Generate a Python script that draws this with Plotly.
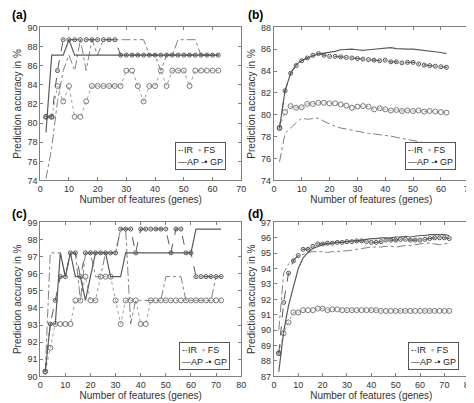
import plotly.graph_objects as go
from plotly.subplots import make_subplots

# Число признаков (генов)
x_ab = [2, 4, 6, 8, 10, 12, 14, 16, 18, 20, 22, 24, 26, 28, 30, 32, 34, 36, 38, 40,
        42, 44, 46, 48, 50, 52, 54, 56, 58, 60, 62]
x_cd = [2, 4, 6, 8, 10, 12, 14, 16, 18, 20, 22, 24, 26, 28, 30, 32, 34, 36, 38, 40,
        42, 44, 46, 48, 50, 52, 54, 56, 58, 60, 62, 64, 66, 68, 70, 72]

# (a)
ir_a = [74.19, 77.42, 82.26, 85.48, 87.10, 85.48, 88.71, 85.48, 88.71, 87.10, 88.71, 88.71, 88.71,
        88.71, 88.71, 88.71, 88.71, 88.71, 87.10, 87.10, 85.48, 87.10, 87.10, 88.71, 88.71, 88.71,
        88.71, 87.10, 87.10, 87.10, 87.10]
fs_a = [80.65, 80.65, 83.87, 82.26, 83.87, 80.65, 80.65, 82.26, 83.87, 83.87, 83.87, 83.87, 83.87,
        83.87, 85.48, 85.48, 83.87, 82.26, 83.87, 83.87, 85.48, 83.87, 85.48, 85.48, 85.48, 83.87,
        85.48, 85.48, 85.48, 85.48, 85.48]
ap_a = [79.03, 87.10, 87.10, 87.10, 88.71, 87.10, 87.10, 87.10, 87.10, 87.10, 87.10, 87.10, 87.10,
        87.10, 87.10, 87.10, 87.10, 87.10, 87.10, 87.10, 87.10, 87.10, 87.10, 87.10, 87.10, 87.10,
        87.10, 87.10, 87.10, 87.10, 87.10]
gp_a = [80.65, 80.65, 85.48, 88.71, 88.71, 88.71, 88.71, 88.71, 88.71, 88.71, 88.71, 88.71, 88.71,
        87.10, 87.10, 87.10, 87.10, 87.10, 87.10, 87.10, 87.10, 87.10, 87.10, 87.10, 87.10, 87.10,
        87.10, 87.10, 87.10, 87.10, 87.10]

# (b)
ir_b = [75.7, 78.3, 78.8, 79.3, 79.7, 79.6, 79.65, 79.7, 79.4, 79.15, 78.95, 78.8, 78.7, 78.55,
        78.45, 78.35, 78.3, 78.25, 78.2, 78.1, 78.05, 77.95, 77.85, 77.75, 77.65, 77.55, 77.5,
        77.4, 77.25, 77.1, 77.0]
fs_b = [78.8, 80.25, 80.8, 80.65, 80.7, 81.0, 81.0, 81.1, 81.1, 81.05, 81.05, 80.95, 80.85, 80.65,
        80.75, 80.8, 80.75, 80.5, 80.6, 80.5, 80.4, 80.45, 80.35, 80.4, 80.35, 80.4, 80.3, 80.35,
        80.3, 80.25, 80.2]
ap_b = [78.8, 82.2, 83.8, 84.6, 85.0, 85.2, 85.45, 85.6, 85.65, 85.7, 85.8, 85.95, 86.0, 86.0,
        85.95, 85.9, 85.95, 86.0, 86.0, 86.05, 86.15, 86.05, 86.0, 86.0, 86.0, 85.95, 85.9, 85.85,
        85.8, 85.7, 85.6]
gp_b = [78.8, 82.2, 83.8, 84.5, 84.95, 85.2, 85.45, 85.6, 85.45, 85.35, 85.35, 85.3, 85.25, 85.2,
        85.15, 85.1, 85.05, 85.0, 84.95, 85.0, 84.85, 84.85, 84.75, 84.8, 84.8, 84.65, 84.55, 84.5,
        84.45, 84.4, 84.35]

# (c)
ir_c = [90.28, 97.22, 97.22, 97.22, 95.83, 97.22, 97.22, 94.44, 97.22, 97.22, 95.83, 95.83, 97.22,
        97.22, 97.22, 98.61, 98.61, 93.06, 94.44, 94.44, 94.44, 94.44, 94.44, 94.44, 95.83, 95.83,
        95.83, 95.83, 94.44, 94.44, 94.44, 94.44, 94.44, 94.44, 95.83, 95.83]
fs_c = [90.28, 91.67, 93.06, 93.06, 93.06, 93.06, 94.44, 94.44, 95.83, 94.44, 94.44, 95.83, 95.83,
        95.83, 94.44, 93.06, 94.44, 94.44, 94.44, 93.06, 93.06, 94.44, 94.44, 94.44, 94.44, 94.44,
        94.44, 94.44, 94.44, 94.44, 94.44, 94.44, 94.44, 94.44, 94.44, 94.44]
ap_c = [90.28, 93.06, 93.06, 97.22, 95.83, 97.22, 95.83, 95.83, 94.44, 95.83, 97.22, 97.22, 97.22,
        95.83, 95.83, 95.83, 97.22, 97.22, 97.22, 97.22, 97.22, 97.22, 97.22, 97.22, 97.22, 97.22,
        97.22, 97.22, 97.22, 97.22, 98.61, 98.61, 98.61, 98.61, 98.61, 98.61]
gp_c = [90.28, 93.06, 94.44, 95.83, 95.83, 97.22, 97.22, 95.83, 97.22, 97.22, 97.22, 97.22, 97.22,
        97.22, 97.22, 98.61, 98.61, 98.61, 97.22, 98.61, 98.61, 98.61, 98.61, 98.61, 98.61, 97.22,
        98.61, 98.61, 97.22, 97.22, 95.83, 95.83, 95.83, 95.83, 95.83, 95.83]

# (d)
ir_d = [90.0, 93.7, 94.3, 94.6, 94.8, 94.95, 95.05, 95.1, 95.1, 95.1, 95.05, 95.1, 95.1, 95.15,
        95.15, 95.2, 95.25, 95.3, 95.35, 95.4, 95.4, 95.4, 95.45, 95.45, 95.4, 95.45, 95.5, 95.5,
        95.55, 95.6, 95.65, 95.65, 95.6, 95.55, 95.6, 95.65]
fs_d = [88.5, 89.8, 90.5, 91.15, 91.15, 91.3, 91.3, 91.3, 91.4, 91.4, 91.3, 91.35, 91.35, 91.3,
        91.3, 91.3, 91.3, 91.3, 91.3, 91.3, 91.3, 91.25, 91.25, 91.25, 91.25, 91.25, 91.25, 91.25,
        91.25, 91.25, 91.25, 91.25, 91.25, 91.25, 91.25, 91.25]
ap_d = [87.3, 89.9, 91.6, 92.9, 94.0, 94.7, 95.05, 95.3, 95.45, 95.55, 95.6, 95.65, 95.7, 95.7,
        95.75, 95.8, 95.8, 95.85, 95.9, 95.95, 95.95, 96.0, 96.0, 96.0, 96.05, 96.05, 96.1, 96.05,
        96.1, 96.15, 96.15, 96.2, 96.2, 96.2, 96.2, 96.15]
gp_d = [88.5, 91.8, 93.7, 94.5, 94.85, 95.25, 95.25, 95.45, 95.6, 95.6, 95.65, 95.65, 95.7, 95.7,
        95.75, 95.75, 95.8, 95.8, 95.75, 95.7, 95.7, 95.75, 95.85, 95.85, 95.85, 95.9, 95.9, 95.85,
        95.85, 95.85, 95.9, 95.95, 96.0, 96.0, 96.0, 95.95]

FONT = "Liberation Sans"

fig = make_subplots(rows=2, cols=2)


def add_panel(row, col, x, ir, fs, ap, gp):
    fig.add_trace(go.Scatter(x=x, y=ir, name="IR", mode="lines",
                             line=dict(color="#808080", width=1, dash="dashdot")),
                  row=row, col=col)
    fig.add_trace(go.Scatter(x=x, y=fs, name="FS", mode="lines+markers",
                             line=dict(color="#a0a0a0", width=1, dash="dot"),
                             marker=dict(symbol="circle-open", size=5, color="#7a7a7a",
                                         line=dict(width=1))),
                  row=row, col=col)
    fig.add_trace(go.Scatter(x=x, y=ap, name="AP", mode="lines",
                             line=dict(color="#5a5a5a", width=1.2)),
                  row=row, col=col)
    fig.add_trace(go.Scatter(x=x, y=gp, name="GP", mode="lines+markers",
                             line=dict(color="#5a5a5a", width=1, dash="dash"),
                             marker=dict(symbol="circle-open-dot", size=4, color="#555555",
                                         line=dict(width=1))),
                  row=row, col=col)


add_panel(1, 1, x_ab, ir_a, fs_a, ap_a, gp_a)
add_panel(1, 2, x_ab, ir_b, fs_b, ap_b, gp_b)
add_panel(2, 1, x_cd, ir_c, fs_c, ap_c, gp_c)
add_panel(2, 2, x_cd, ir_d, fs_d, ap_d, gp_d)

axis_style = dict(showline=True, mirror="ticks", linecolor="#808080", linewidth=1,
                  ticks="inside", ticklen=3, tickcolor="#808080", showgrid=False,
                  zeroline=False, automargin=False,
                  tickfont=dict(family=FONT, size=9, color="#333333"))
fig.update_xaxes(**axis_style, dtick=10,
                 title=dict(text="Number of features (genes)", standoff=1,
                            font=dict(family=FONT, size=10, color="#333333")))
fig.update_yaxes(**axis_style,
                 title=dict(text="Prediction accuracy in %", standoff=3,
                            font=dict(family=FONT, size=10, color="#333333")))

# расположение панелей
left, right = [0.068, 0.492], [0.561, 0.972]
top, bottom = [0.572, 0.952], [0.086, 0.468]
fig.update_layout(
    xaxis=dict(domain=left, range=[0, 70]), yaxis=dict(domain=top, range=[74, 90], dtick=2),
    xaxis2=dict(domain=right, range=[0, 70]), yaxis2=dict(domain=top, range=[74, 88], dtick=2),
    xaxis3=dict(domain=left, range=[0, 80]), yaxis3=dict(domain=bottom, range=[90, 99], dtick=1),
    xaxis4=dict(domain=right, range=[0, 80]), yaxis4=dict(domain=bottom, range=[87, 97], dtick=1),
)

# компактная легенда 2x2 в каждой панели (как в исходном рисунке)
legend_text = "-·IR  ◦ FS<br>—AP -• GP"
for lx, ly in [(0.46, 0.598), (0.946, 0.598), (0.468, 0.101), (0.952, 0.101)]:
    fig.add_annotation(text=legend_text, x=lx, y=ly, xref="paper", yref="paper",
                       xanchor="right", yanchor="bottom", align="left", showarrow=False,
                       bgcolor="white", bordercolor="#555555", borderwidth=1, borderpad=2,
                       font=dict(family=FONT, size=9, color="#222222"))

# подписи панелей
for label, lx, ly in [("(a)", 0.005, 0.982), ("(b)", 0.503, 0.982),
                      ("(c)", 0.005, 0.49), ("(d)", 0.503, 0.49)]:
    fig.add_annotation(text="<b>" + label + "</b>", x=lx, y=ly, xref="paper", yref="paper",
                       xanchor="left", yanchor="middle", showarrow=False,
                       font=dict(family=FONT, size=12, color="black"))

fig.update_layout(
    width=474, height=403,
    margin=dict(l=0, r=0, t=0, b=0),
    showlegend=False,
    plot_bgcolor="white", paper_bgcolor="white",
    font=dict(family=FONT, color="#333333"),
)

fig.write_html("out.html")
